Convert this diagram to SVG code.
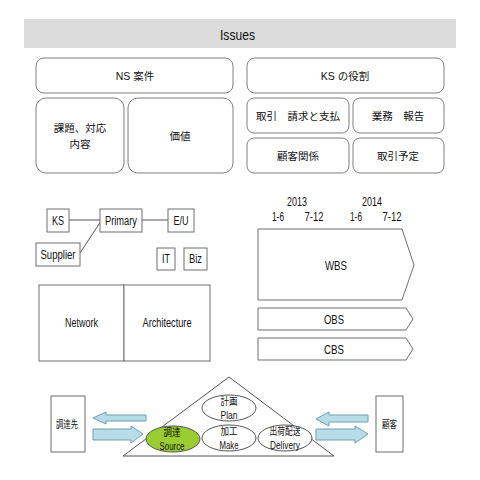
<svg xmlns="http://www.w3.org/2000/svg" width="480" height="480" viewBox="0 0 480 480">
<style>
text{font-family:"Liberation Sans","Noto Sans CJK JP",sans-serif;font-size:12px;fill:#111;text-anchor:middle;dominant-baseline:central}
.cj{font-size:10.5px}
.sm{font-size:10px}
.rr{fill:#fff;stroke:#7f7f7f;stroke-width:1}
.bx{fill:#fff;stroke:#6f6f6f;stroke-width:1}
.ln{stroke:#555;stroke-width:1;fill:none}
.ar{fill:#b7dde8;stroke:#6f9fb0;stroke-width:1}
.el{fill:#fff;stroke:#555;stroke-width:1}
</style>
<rect width="480" height="480" fill="#fff"/>
<g id="header"><rect x="24" y="19" width="432" height="29" fill="#dcdcdc"/><text x="220" y="34" style="font-size:15px;text-anchor:start" textLength="35" lengthAdjust="spacingAndGlyphs">Issues</text></g>
<g id="ns"><rect class="rr" x="36" y="58" width="197" height="35" rx="8"/><text class="cj" x="135" y="76">NS 案件</text></g>
<g id="kadai"><rect class="rr" x="36" y="98" width="88" height="75" rx="10"/><text class="cj" x="80" y="128">課題、対応</text><text class="cj" x="80" y="144">内容</text></g>
<g id="kachi"><rect class="rr" x="128" y="98" width="105" height="75" rx="10"/><text class="cj" x="180" y="136">価値</text></g>
<g id="ks-role"><rect class="rr" x="247" y="58" width="197" height="35" rx="8"/><text class="cj" x="345" y="76">KS の役割</text></g>
<g id="torihiki"><rect class="rr" x="247" y="98" width="102" height="35" rx="7"/><text class="cj" x="298" y="116">取引　請求と支払</text></g>
<g id="gyomu"><rect class="rr" x="353" y="98" width="91" height="35" rx="7"/><text class="cj" x="398" y="116">業務　報告</text></g>
<g id="kokyaku-kankei"><rect class="rr" x="247" y="138" width="102" height="35" rx="7"/><text class="cj" x="298" y="156">顧客関係</text></g>
<g id="yotei"><rect class="rr" x="353" y="138" width="91" height="35" rx="7"/><text class="cj" x="398" y="156">取引予定</text></g>
<g id="connectors">
<line class="ln" x1="69" y1="220" x2="100" y2="220"/>
<line class="ln" x1="142" y1="220" x2="168" y2="220"/>
<line class="ln" x1="80" y1="253" x2="101" y2="221"/>
</g>
<g id="ks"><rect class="bx" x="47" y="209" width="22" height="23"/><text x="58" y="221" textLength="12" lengthAdjust="spacingAndGlyphs">KS</text></g>
<g id="primary"><rect class="bx" x="100" y="209" width="42" height="23"/><text x="121" y="221" textLength="32" lengthAdjust="spacingAndGlyphs">Primary</text></g>
<g id="eu"><rect class="bx" x="168" y="209" width="26" height="23"/><text x="181" y="221" textLength="15" lengthAdjust="spacingAndGlyphs">E/U</text></g>
<g id="supplier"><rect class="bx" x="36" y="243" width="44" height="23"/><text x="58" y="255" textLength="35" lengthAdjust="spacingAndGlyphs">Supplier</text></g>
<g id="it"><rect class="bx" x="157" y="248" width="18" height="22"/><text x="166" y="259" textLength="8" lengthAdjust="spacingAndGlyphs">IT</text></g>
<g id="biz"><rect class="bx" x="184" y="248" width="23" height="22"/><text x="195.5" y="259" textLength="13" lengthAdjust="spacingAndGlyphs">Biz</text></g>
<g id="network"><rect class="bx" x="39" y="285" width="85" height="76"/><text x="81.5" y="323" textLength="33" lengthAdjust="spacingAndGlyphs">Network</text></g>
<g id="architecture"><rect class="bx" x="124" y="285" width="86" height="76"/><text x="167" y="323" textLength="49" lengthAdjust="spacingAndGlyphs">Architecture</text></g>
<g id="timeline">
<text x="297" y="202" textLength="20" lengthAdjust="spacingAndGlyphs">2013</text><text x="372" y="202" textLength="20" lengthAdjust="spacingAndGlyphs">2014</text>
<text x="278" y="217" textLength="12" lengthAdjust="spacingAndGlyphs">1-6</text><text x="314" y="217" textLength="19" lengthAdjust="spacingAndGlyphs">7-12</text><text x="356" y="217" textLength="12" lengthAdjust="spacingAndGlyphs">1-6</text><text x="392" y="217" textLength="19" lengthAdjust="spacingAndGlyphs">7-12</text>
</g>
<g id="wbs"><polygon class="bx" points="258,229 402,229 414,265 402,300 258,300"/><text x="336" y="266" textLength="22" lengthAdjust="spacingAndGlyphs">WBS</text></g>
<g id="obs"><polygon class="bx" points="258,308 406,308 413,319 406,330 258,330"/><text x="334" y="320" textLength="20" lengthAdjust="spacingAndGlyphs">OBS</text></g>
<g id="cbs"><polygon class="bx" points="258,338 406,338 413,349 406,360 258,360"/><text x="334" y="350" textLength="20" lengthAdjust="spacingAndGlyphs">CBS</text></g>
<g id="chotatsusaki"><rect class="bx" x="51" y="396" width="34" height="56"/><text class="sm" x="67" y="424" textLength="22" lengthAdjust="spacingAndGlyphs">調達先</text></g>
<g id="kokyaku"><rect class="bx" x="376" y="396" width="27" height="56"/><text class="sm" x="389.5" y="424" textLength="15" lengthAdjust="spacingAndGlyphs">顧客</text></g>
<g id="arrows">
<polygon class="ar" points="93,418 106,412 106,415 146,415 146,421 106,421 106,424"/>
<polygon class="ar" points="93,429 131,429 131,426 143,434 131,443 131,440 93,440"/>
<polygon class="ar" points="316,419 329,412 329,415 368,415 368,422 329,422 329,426"/>
<polygon class="ar" points="316,429 355,429 355,426 368,434 355,443 355,440 316,440"/>
</g>
<g id="triangle"><polygon points="229,377 334,456 123,456" fill="#fff" stroke="#555" stroke-width="1"/></g>
<g id="plan"><ellipse class="el" cx="229" cy="408" rx="27" ry="13"/><text class="sm" x="229" y="401" textLength="17" lengthAdjust="spacingAndGlyphs">計画</text><text class="sm" x="229" y="415" textLength="17" lengthAdjust="spacingAndGlyphs">Plan</text></g>
<g id="make"><ellipse class="el" cx="229" cy="438" rx="27" ry="13"/><text class="sm" x="229" y="431" textLength="17" lengthAdjust="spacingAndGlyphs">加工</text><text class="sm" x="229" y="445" textLength="19" lengthAdjust="spacingAndGlyphs">Make</text></g>
<g id="delivery"><ellipse class="el" cx="285" cy="438" rx="27" ry="13"/><text class="sm" x="285" y="431" textLength="31" lengthAdjust="spacingAndGlyphs">出荷配送</text><text class="sm" x="285" y="445" textLength="30" lengthAdjust="spacingAndGlyphs">Delivery</text></g>
<g id="source"><ellipse cx="173" cy="439" rx="27" ry="13" fill="#9acd32" stroke="#555" stroke-width="1"/><text class="sm" x="172" y="432" textLength="17" lengthAdjust="spacingAndGlyphs">調達</text><text class="sm" x="172" y="446" textLength="25" lengthAdjust="spacingAndGlyphs">Source</text></g>
</svg>
